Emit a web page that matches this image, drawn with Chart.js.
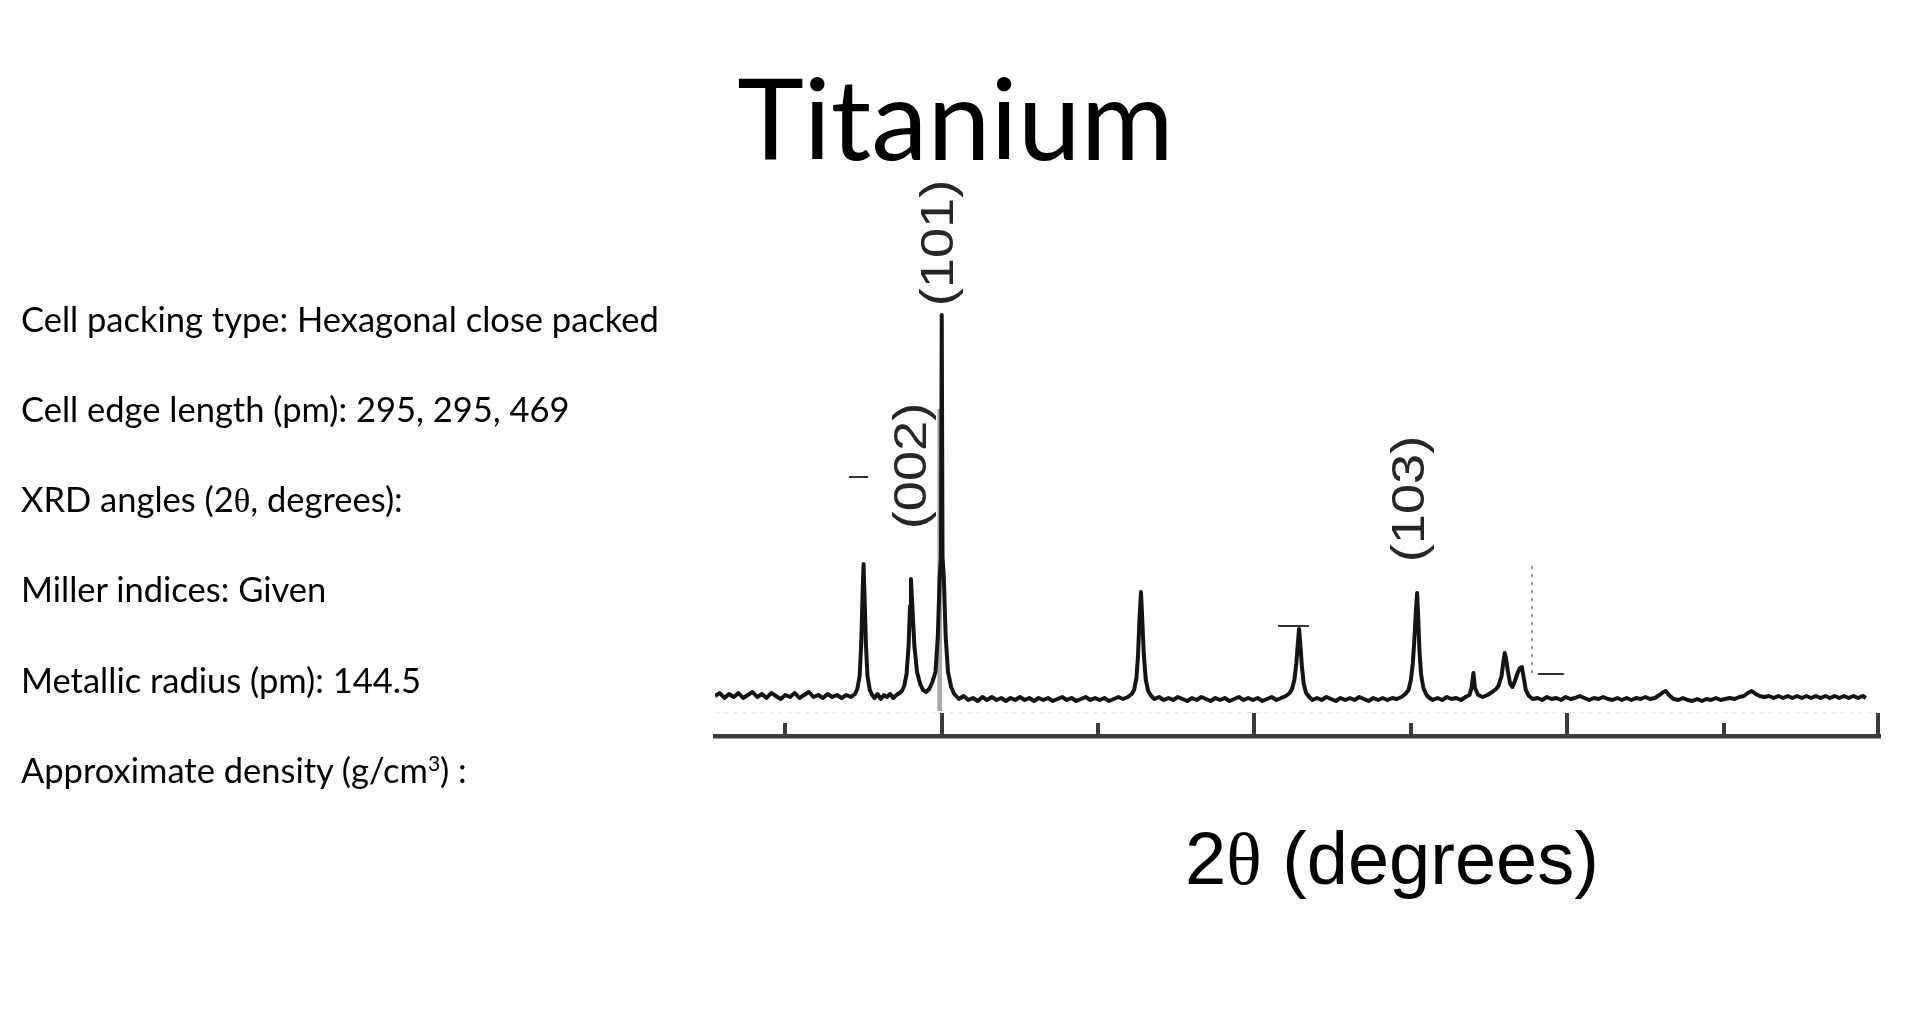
<!DOCTYPE html>
<html><head><meta charset="utf-8">
<script src="https://cdn.jsdelivr.net/npm/chart.js@4.4.1/dist/chart.umd.min.js"></script>
<style>
html,body{margin:0;padding:0;background:#fff;width:1911px;height:1010px;overflow:hidden;}
#c{position:absolute;left:0;top:0;}
.info{position:absolute;left:21px;height:0;line-height:0;white-space:nowrap;color:#000;font-family:Lato,'Open Sans',sans-serif;font-size:34.5px;}
.th{font-family:'Liberation Serif',serif;}
.sup{font-size:21px;position:relative;top:-12px;}
</style></head><body>
<canvas id="c" width="1911" height="1010"></canvas>
<div id="info"></div>
<script>
// ---- data ----
const chartTitle = 'Titanium';
const axisTitle = ['2', '\u03B8', ' (degrees)'];
const infoLines = [
  'Cell packing type: Hexagonal close packed',
  'Cell edge length (pm): 295, 295, 469',
  'XRD angles (2\u03B8, degrees):',
  'Miller indices: Given',
  'Metallic radius (pm): 144.5',
  'Approximate density (g/cm\u00B3) :'
];
const twoTheta = [
  25.5,25.8,26.1,26.4,26.7,27.0,27.3,27.6,27.9,28.2,28.5,28.8,29.1,29.4,29.7,30.0,30.3,30.6,30.9,31.2,31.5,31.8,32.1,32.4,32.7,33.0,33.3,33.6,33.9,34.2,
  34.45,34.6,34.75,34.85,34.93,35.0,35.07,35.15,35.25,35.4,35.55,
  35.7,35.9,36.1,36.3,36.5,36.7,36.9,37.1,37.3,
  37.45,37.6,37.75,37.88,37.97,38.03,38.12,38.25,38.42,38.62,38.8,39.0,39.2,39.4,39.6,39.75,39.87,39.95,40.0,40.05,40.13,40.25,40.4,40.6,40.8,
  41.1,41.4,41.7,42.0,42.3,42.6,42.9,43.2,43.5,43.8,44.1,44.4,44.7,45.0,45.3,45.6,45.9,46.2,46.5,46.8,47.1,47.4,47.7,48.0,48.3,48.6,48.9,49.2,49.5,49.8,50.1,50.4,50.7,51.0,51.3,51.6,51.9,52.15,
  52.3,52.45,52.55,52.64,52.74,52.82,52.92,53.05,53.2,53.4,
  53.6,53.9,54.2,54.5,54.8,55.1,55.4,55.7,56.0,56.3,56.6,56.9,57.2,57.5,57.8,58.1,58.4,58.7,59.0,59.3,59.6,59.9,60.2,60.5,60.8,61.1,61.4,61.7,62.0,62.25,
  62.4,62.55,62.67,62.77,62.85,62.93,63.03,63.15,63.3,63.5,
  63.7,64.0,64.3,64.6,64.9,65.2,65.5,65.8,66.1,66.4,66.7,67.0,67.3,67.6,67.9,68.2,68.5,68.8,69.1,69.4,69.65,
  69.85,70.0,70.12,70.22,70.32,70.4,70.47,70.55,70.65,70.8,71.0,71.2,
  71.4,71.7,72.0,72.3,72.6,72.9,73.2,73.5,73.75,
  73.88,74.0,74.1,74.3,74.6,74.9,75.2,75.45,75.6,75.8,75.92,76.0,76.08,76.2,76.35,76.5,76.65,76.85,76.98,77.1,77.22,77.35,77.55,77.8,
  78.1,78.4,78.7,79.0,79.3,79.6,79.9,80.2,80.5,80.8,81.1,81.4,81.7,82.0,82.3,82.6,82.9,83.2,83.5,83.8,84.1,84.4,84.7,85.0,85.3,85.6,85.9,
  86.15,86.3,86.5,
  86.8,87.1,87.4,87.7,88.0,88.3,88.6,88.9,89.2,89.5,89.8,90.1,90.4,90.7,91.0,91.3,
  91.55,91.8,92.05,
  92.3,92.6,92.9,93.2,93.5,93.8,94.1,94.4,94.7,95.0,95.3,95.6,95.9,96.2,96.5,96.8,97.1,97.4,97.7,98.0,98.3,98.6,98.9,
  99.1
];
const intensity = [
  40,43,38,42,39,43,38,41,44,39,42,38,43,40,37,41,39,43,38,41,44,39,41,38,42,39,41,38,41,39,
  42,47,60,92,138,172,136,92,60,46,41,
  38,42,37,41,39,42,38,41,43,
  45,50,62,90,130,157,130,90,64,52,46,44,47,54,64,100,160,178,421,178,160,100,64,49,42,
  37,40,36,38,35,39,36,39,36,38,35,38,36,39,36,38,35,38,36,38,35,37,39,36,38,35,37,39,36,38,36,38,35,37,39,37,39,42,
  46,58,80,115,144,118,82,56,45,40,
  37,39,36,38,36,39,37,35,38,36,39,37,35,38,36,38,35,37,39,36,38,36,38,35,37,39,36,38,40,43,
  47,56,72,92,107,92,70,52,43,39,
  36,38,36,39,37,35,38,36,38,36,39,37,35,38,36,38,36,38,37,39,42,
  46,56,72,95,125,143,118,85,62,48,41,38,
  36,38,36,39,37,38,36,39,41,
  48,63,48,41,39,41,44,47,50,60,75,83,78,65,52,49,55,64,68,69,58,46,40,37,
  38,36,39,37,38,36,39,37,38,40,38,36,38,37,39,37,36,38,36,38,36,38,37,39,37,38,41,
  44,45,41,
  37,36,38,36,35,37,35,37,36,38,36,37,38,37,39,40,
  43,45,42,
  40,39,40,38,40,38,40,38,40,38,40,38,40,38,40,38,40,38,40,38,40,38,40,
  38
];
const peakLabels = ['(002)', '(101)', '(103)'];
const peakLabelAngle = [38.2, 39.9, 70.0];
const peakLabelLevel = [270, 493, 237];
const majorTicks = [40, 60, 80, 100];
const minorTicks = [30, 50, 70, 90];
// leftover marks of the scanned figure: [from 2θ, to 2θ, level]
const strayDashes = [[34.07, 35.29, 259], [61.5, 63.48, 110], [78.12, 79.78, 62]];
const strayDotted = [77.74, 63, 173];
const fadedStrip = [39.72, 40.02, 25, 327];

// ---- left text block ----
const infoBaselines = [332, 422, 512, 602, 693, 783];
const infoSize = 34.5;
const info = document.getElementById('info');
infoLines.forEach((t, i) => {
  const d = document.createElement('div');
  d.className = 'info';
  d.style.top = (infoBaselines[i] - 0.387 * infoSize) + 'px';
  d.innerHTML = t.replace('\u03B8', '<span class="th">\u03B8</span>').replace('\u00B3', '<span class="sup">3</span>');
  info.appendChild(d);
});

// ---- chart ----
const decor = {
  id: 'decor',
  beforeDatasetsDraw(chart) {
    const {ctx, scales: {x, y}} = chart;
    ctx.save();
    ctx.fillStyle = 'rgba(140,140,140,0.75)';
    const xa = x.getPixelForValue(fadedStrip[0]), xb = x.getPixelForValue(fadedStrip[1]);
    const ya = y.getPixelForValue(fadedStrip[2]), yb = y.getPixelForValue(fadedStrip[3]);
    ctx.fillRect(xa, yb, xb - xa, ya - yb);
    ctx.strokeStyle = 'rgba(0,0,0,0.09)';
    ctx.lineWidth = 1.5;
    ctx.setLineDash([5, 4]);
    ctx.beginPath();
    ctx.moveTo(x.getPixelForValue(25.5), y.getPixelForValue(23));
    ctx.lineTo(x.getPixelForValue(100), y.getPixelForValue(23));
    ctx.stroke();
    ctx.restore();
  },
  afterDraw(chart) {
    const {ctx, chartArea, scales: {x, y}} = chart;
    const y0 = y.getPixelForValue(0);
    ctx.save();
    ctx.strokeStyle = '#3a3a3a';
    ctx.lineCap = 'butt';
    ctx.lineWidth = 4;
    majorTicks.forEach(v => {
      const px = Math.round(x.getPixelForValue(v)) - (v === 100 ? 2 : 0);
      ctx.beginPath(); ctx.moveTo(px, y0); ctx.lineTo(px, y0 - 23); ctx.stroke();
    });
    minorTicks.forEach(v => {
      const px = Math.round(x.getPixelForValue(v));
      ctx.beginPath(); ctx.moveTo(px, y0); ctx.lineTo(px, y0 - 13); ctx.stroke();
    });
    ctx.strokeStyle = '#333';
    ctx.lineWidth = 2;
    strayDashes.forEach(d => {
      ctx.beginPath();
      ctx.moveTo(x.getPixelForValue(d[0]), y.getPixelForValue(d[2]));
      ctx.lineTo(x.getPixelForValue(d[1]), y.getPixelForValue(d[2]));
      ctx.stroke();
    });
    ctx.setLineDash([3, 5]);
    ctx.lineWidth = 1.5;
    ctx.strokeStyle = '#777';
    ctx.beginPath();
    ctx.moveTo(x.getPixelForValue(strayDotted[0]), y.getPixelForValue(strayDotted[1]));
    ctx.lineTo(x.getPixelForValue(strayDotted[0]), y.getPixelForValue(strayDotted[2]));
    ctx.stroke();
    ctx.setLineDash([]);
    ctx.fillStyle = '#262626';
    ctx.font = '46px "Liberation Sans", Arial, sans-serif';
    ctx.textAlign = 'center';
    ctx.textBaseline = 'middle';
    peakLabels.forEach((t, i) => {
      ctx.save();
      ctx.translate(x.getPixelForValue(peakLabelAngle[i]), y.getPixelForValue(peakLabelLevel[i]));
      ctx.rotate(-Math.PI / 2);
      ctx.scale(1.18, 1);
      ctx.fillText(t, 0, 0);
      ctx.restore();
    });
    ctx.fillStyle = '#000';
    ctx.textAlign = 'left';
    ctx.textBaseline = 'alphabetic';
    let tx = chartArea.left + 470;
    const ty = chartArea.bottom + 148;
    const fonts = ['74px "Liberation Sans", Arial, sans-serif', '74px "Liberation Serif", serif', '74px "Liberation Sans", Arial, sans-serif'];
    axisTitle.forEach((s, i) => {
      ctx.font = fonts[i];
      ctx.fillText(s, tx, ty);
      tx += ctx.measureText(s).width;
    });
    ctx.restore();
  }
};

const points = twoTheta.map((v, i) => ({x: v, y: intensity[i]}));
const hiddenSide = {display: true, ticks: {display: false}, grid: {display: false, drawTicks: false}, border: {display: false}};

new Chart(document.getElementById('c'), {
  type: 'line',
  data: {datasets: [{data: points, borderColor: '#141414', borderWidth: 4, pointRadius: 0, tension: 0, fill: false, borderJoinStyle: 'round', yAxisID: 'y'}]},
  options: {
    responsive: false, animation: false, devicePixelRatio: 1,
    layout: {padding: {left: 0, right: 0, top: 0, bottom: 274}},
    plugins: {
      legend: {display: false},
      tooltip: {enabled: false},
      title: {display: true, text: chartTitle, color: '#000', font: {family: 'Lato', size: 113, weight: 'normal'}, padding: {top: 56, bottom: 2}}
    },
    scales: {
      x: {type: 'linear', min: 25.5, max: 100, ticks: {display: false}, grid: {display: false, drawTicks: false}, border: {display: true, color: '#3a3a3a', width: 4.5}},
      y: Object.assign({type: 'linear', position: 'left', min: 0, max: 542.4, afterFit: s => { s.width = 715; }}, hiddenSide),
      y2: Object.assign({type: 'linear', position: 'right', min: 0, max: 1, afterFit: s => { s.width = 31; }}, hiddenSide)
    }
  },
  plugins: [decor]
});
</script>
</body></html>
